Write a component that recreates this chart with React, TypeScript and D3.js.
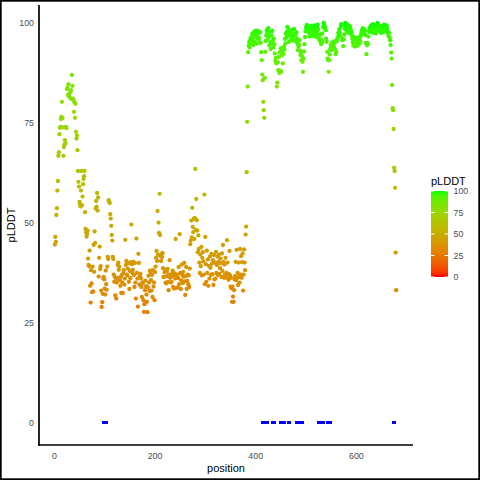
import * as d3 from "d3";

// pLDDT per residue, position = index + 1
const plddt = [
  44.5, 46.4, 45.2, 51.9, 53.6, 58.0, 60.4, 66.7, 67.6, 72.1,
  73.7, 73.9, 75.9, 76.4, 80.2, 76.1, 73.8, 66.7, 68.9, 69.5,
  70.6, 69.8, 73.9, 73.6, 83.4, 83.7, 81.9, 84.6, 81.6, 82.2,
  81.2, 82.7, 83.1, 80.9, 86.9, 84.2, 81.0, 80.7, 77.7, 80.1,
  76.2, 79.7, 72.7, 71.0, 71.8, 68.1, 62.9, 60.2, 59.0, 55.2,
  54.6, 54.0, 58.0, 62.9, 54.3, 56.5, 59.6, 60.9, 61.6, 62.9,
  52.6, 48.4, 47.5, 46.5, 47.2, 48.0, 41.0, 39.4, 39.1, 43.0,
  34.2, 30.0, 38.1, 34.8, 32.6, 39.0, 32.8, 44.4, 37.7, 47.8,
  44.9, 53.5, 55.4, 54.0, 57.4, 53.0, 56.3, 36.5, 41.2, 44.0,
  38.4, 39.1, 33.0, 28.9, 30.1, 32.2, 36.1, 36.4, 35.8, 33.5,
  32.0, 38.0, 34.6, 33.2, 39.0, 41.4, 40.9, 55.6, 55.2, 54.9,
  52.1, 51.0, 49.2, 46.9, 45.5, 41.4, 40.9, 37.0, 35.2, 36.4,
  31.8, 35.4, 31.0, 35.0, 36.2, 39.4, 40.0, 38.2, 39.0, 35.6,
  34.2, 36.4, 32.4, 36.9, 35.0, 32.4, 37.3, 38.1, 34.5, 36.0,
  45.7, 39.4, 40.4, 37.0, 36.8, 38.5, 39.8, 35.2, 33.4, 37.9,
  36.1, 40.1, 49.5, 39.6, 37.4, 38.2, 40.2, 36.9, 33.9, 39.9,
  35.0, 31.0, 46.0, 37.4, 36.0, 29.0, 42.2, 39.9, 34.5, 36.6,
  37.2, 36.0, 33.9, 31.4, 34.9, 35.0, 30.6, 27.7, 29.6, 33.1,
  35.5, 34.1, 32.0, 30.2, 27.6, 33.8, 36.7, 35.0, 32.9, 38.0,
  37.4, 35.6, 33.0, 36.9, 31.4, 38.1, 34.0, 35.0, 30.6, 37.6,
  39.0, 41.2, 42.9, 40.4, 52.9, 42.0, 50.0, 47.4, 57.2, 46.9,
  41.6, 40.4, 42.1, 41.4, 42.4, 38.6, 36.4, 36.4, 37.6, 38.2,
  35.0, 34.8, 37.8, 36.6, 38.4, 35.2, 33.1, 37.0, 40.6, 36.2,
  35.0, 36.4, 35.2, 37.2, 38.0, 33.9, 36.8, 33.5, 37.3, 36.0,
  45.9, 36.5, 33.7, 37.0, 33.8, 36.1, 38.9, 34.6, 47.1, 37.4,
  33.4, 35.6, 39.5, 36.9, 34.9, 37.7, 36.5, 39.9, 35.3, 31.9,
  36.6, 38.9, 33.4, 35.4, 37.0, 34.6, 36.8, 33.9, 38.5, 44.6,
  45.5, 50.5, 46.3, 53.7, 48.9, 47.6, 50.9, 45.9, 51.2, 63.4,
  48.2, 55.9, 50.6, 48.0, 42.6, 46.8, 43.4, 40.0, 37.4, 42.0,
  39.1, 43.9, 36.8, 41.2, 42.6, 40.3, 37.0, 57.0, 34.6, 46.4,
  39.6, 35.2, 43.0, 37.4, 40.8, 34.2, 39.2, 36.0, 41.5, 38.7,
  36.9, 42.2, 39.7, 37.1, 40.6, 34.4, 41.9, 35.8, 40.0, 36.0,
  42.7, 37.4, 39.4, 41.5, 36.9, 40.2, 42.0, 37.2, 38.6, 41.0,
  39.8, 36.4, 42.3, 37.9, 44.4, 40.2, 36.2, 39.5, 37.0, 41.2,
  36.3, 37.4, 45.6, 40.0, 36.0, 35.7, 37.1, 42.9, 36.8, 34.0,
  36.2, 33.6, 30.2, 34.0, 31.5, 30.2, 33.1, 35.8, 36.6, 40.2,
  35.6, 43.2, 36.1, 37.4, 34.4, 40.0, 36.4, 35.0, 43.4, 37.0,
  41.6, 36.2, 40.1, 42.3, 33.0, 37.0, 43.3, 40.0, 38.1, 47.0,
  49.0, 62.6, 75.2, 84.0, 92.6, 94.2, 95.1, 93.8, 95.6, 96.2,
  94.6, 95.3, 97.1, 96.0, 94.4, 97.6, 96.8, 95.2, 97.9, 96.3,
  94.7, 97.2, 96.5, 98.0, 95.8, 97.4, 96.1, 94.9, 97.6, 95.0,
  92.6, 90.6, 87.0, 85.6, 80.2, 78.1, 76.2, 86.2, 92.7, 95.4,
  96.8, 98.1, 97.2, 95.9, 98.6, 96.4, 94.3, 97.7, 95.2, 93.4,
  96.8, 94.8, 97.9, 95.6, 93.8, 96.0, 94.6, 92.3, 90.4, 91.2,
  89.8, 84.0, 85.0, 90.1, 88.1, 91.4, 87.4, 92.6, 88.0, 93.6,
  87.7, 91.8, 93.1, 89.8, 92.2, 94.0, 93.3, 95.9, 94.8, 97.2,
  96.3, 97.8, 98.9, 96.7, 97.5, 95.2, 98.1, 96.9, 95.7, 97.9,
  96.4, 98.2, 97.0, 95.5, 96.7, 98.4, 97.3, 95.8, 96.9, 95.3,
  97.6, 96.0, 94.7, 93.1, 94.0, 94.4, 95.6, 93.0, 91.9, 92.4,
  90.6, 91.6, 90.2, 87.7, 91.0, 92.8, 94.6, 96.4, 97.8, 98.7,
  99.1, 99.4, 98.6, 99.0, 98.2, 97.4, 96.5, 97.9, 98.8, 99.2,
  98.4, 97.6, 96.6, 97.1, 98.0, 98.9, 99.3, 98.5, 97.2, 96.4,
  97.8, 98.8, 99.5, 98.3, 97.0, 96.0, 95.6, 96.9, 95.2, 94.6,
  95.7, 97.3, 95.2, 98.9, 99.9, 99.4, 98.6, 98.9, 98.1, 96.0,
  95.2, 92.7, 91.0, 90.6, 87.7, 90.6, 92.0, 93.4, 94.4, 93.1,
  94.0, 95.0, 93.6, 94.4, 95.3, 93.8, 94.9, 93.2, 92.1, 92.6,
  95.4, 95.9, 96.3, 97.4, 96.7, 98.3, 97.5, 96.7, 98.9, 99.6,
  99.3, 95.6, 96.0, 94.1, 95.8, 97.0, 98.4, 99.9, 99.2, 98.6,
  97.7, 98.9, 99.5, 98.2, 97.4, 98.7, 99.1, 97.9, 98.3, 97.6,
  96.8, 96.0, 95.1, 94.3, 95.6, 96.4, 94.0, 95.3, 94.7, 96.1,
  95.0, 94.2, 95.9, 96.3, 94.6, 95.4, 96.0, 95.2, 96.8, 97.4,
  98.1, 97.0, 98.6, 97.8, 98.3, 97.2, 98.0, 96.9, 94.9, 92.1,
  94.4, 94.9, 94.6, 96.5, 97.8, 98.6, 97.6, 98.9, 99.3, 98.4,
  97.5, 98.8, 99.6, 98.2, 97.4, 98.9, 99.1, 98.0, 97.3, 98.5,
  99.4, 99.9, 99.7, 98.7, 97.9, 98.6, 99.2, 98.1, 97.4, 98.3,
  99.0, 98.5, 97.6, 98.8, 99.5, 99.2, 98.4, 97.8, 98.9, 99.3,
  98.6, 97.7, 97.3, 96.6, 97.5, 96.2, 95.6, 94.4, 92.5, 91.0,
  84.4, 78.6, 78.1, 73.4, 63.7, 62.9, 58.7, 42.5, 33.1,
];

// stretches drawn as blue squares at pLDDT = 0
const blueStart = [98, 414, 434, 450, 466, 482, 526, 544, 675];
const blueEnd = [103, 423, 436, 457, 466, 492, 534, 548, 675];

const xTicks = [0, 200, 400, 600];
const yTicks = [0, 25, 50, 75, 100];
const legendTicks = [0, 25, 50, 75, 100];

const FONT = "Liberation Sans, Arial, sans-serif";

const App = () => {
  const x = d3.scaleLinear().domain([-30.5, 712.5]).range([39, 413]);
  const y = d3.scaleLinear().domain([-5.6, 104.4]).range([445, 5]);
  const color = d3
    .scaleLinear<string>()
    .domain([0, 100])
    .range(["#ff0000", "#00ff00"])
    .interpolate(d3.interpolateLab);
  const legendY = d3.scaleLinear().domain([0, 100]).range([277, 191]);
  const stops = d3.range(0, 101, 5);
  const half = 1.85; // half size of blue squares

  return (
    <svg
      width={480}
      height={480}
      style={{ position: "fixed", left: 0, top: 0, background: "#fff" }}
      fontFamily={FONT}
    >
      <defs>
        <linearGradient id="bar" x1="0" y1="1" x2="0" y2="0">
          {stops.map((s) => (
            <stop key={s} offset={s / 100} stopColor={color(s)} />
          ))}
        </linearGradient>
      </defs>
      <rect x={0} y={0} width={480} height={480} fill="#fff" />

      {/* points */}
      <g>
        {plddt.map((v, i) => (
          <circle key={i} cx={x(i + 1)} cy={y(v)} r={2.15} fill={color(v)} />
        ))}
      </g>
      <g shapeRendering="crispEdges">
        {blueStart.map((s, i) => (
          <rect
            key={i}
            x={x(s) - half}
            y={y(0) - half}
            width={x(blueEnd[i]) - x(s) + 2 * half}
            height={2 * half}
            fill="#0000ff"
          />
        ))}
      </g>

      {/* axes */}
      <line x1={39} x2={39} y1={5} y2={445.8} stroke="#000" strokeWidth={1.7} />
      <line x1={38.2} x2={413} y1={445} y2={445} stroke="#000" strokeWidth={1.7} />
      {yTicks.map((t) => (
        <text
          key={t}
          x={34}
          y={y(t) + 3.1}
          textAnchor="end"
          fontSize={8.8}
          fill="#4d4d4d"
        >
          {t}
        </text>
      ))}
      {xTicks.map((t) => (
        <text
          key={t}
          x={x(t)}
          y={458.7}
          textAnchor="middle"
          fontSize={8.8}
          fill="#4d4d4d"
        >
          {t}
        </text>
      ))}
      <text x={226} y={472} textAnchor="middle" fontSize={11} fill="#000">
        position
      </text>
      <text
        transform="translate(15,225) rotate(-90)"
        textAnchor="middle"
        fontSize={11}
        fill="#000"
      >
        pLDDT
      </text>

      {/* legend */}
      <text x={431} y={185} fontSize={11} fill="#000">
        pLDDT
      </text>
      <rect
        x={431}
        y={legendY(100)}
        width={17}
        height={legendY(0) - legendY(100)}
        fill="url(#bar)"
      />
      {legendTicks.map((t) => (
        <g key={t} stroke="#fff" strokeWidth={1}>
          <line x1={431} x2={434.4} y1={legendY(t)} y2={legendY(t)} />
          <line x1={444.6} x2={448} y1={legendY(t)} y2={legendY(t)} />
        </g>
      ))}
      {legendTicks.map((t) => (
        <text
          key={t}
          x={453.5}
          y={legendY(t) + 3.1}
          fontSize={8.8}
          fill="#4d4d4d"
        >
          {t}
        </text>
      ))}

      {/* plot border */}
      <rect
        x={0.85}
        y={0.85}
        width={478.3}
        height={478.3}
        fill="none"
        stroke="#000"
        strokeWidth={1.7}
      />
    </svg>
  );
};

export default App;
